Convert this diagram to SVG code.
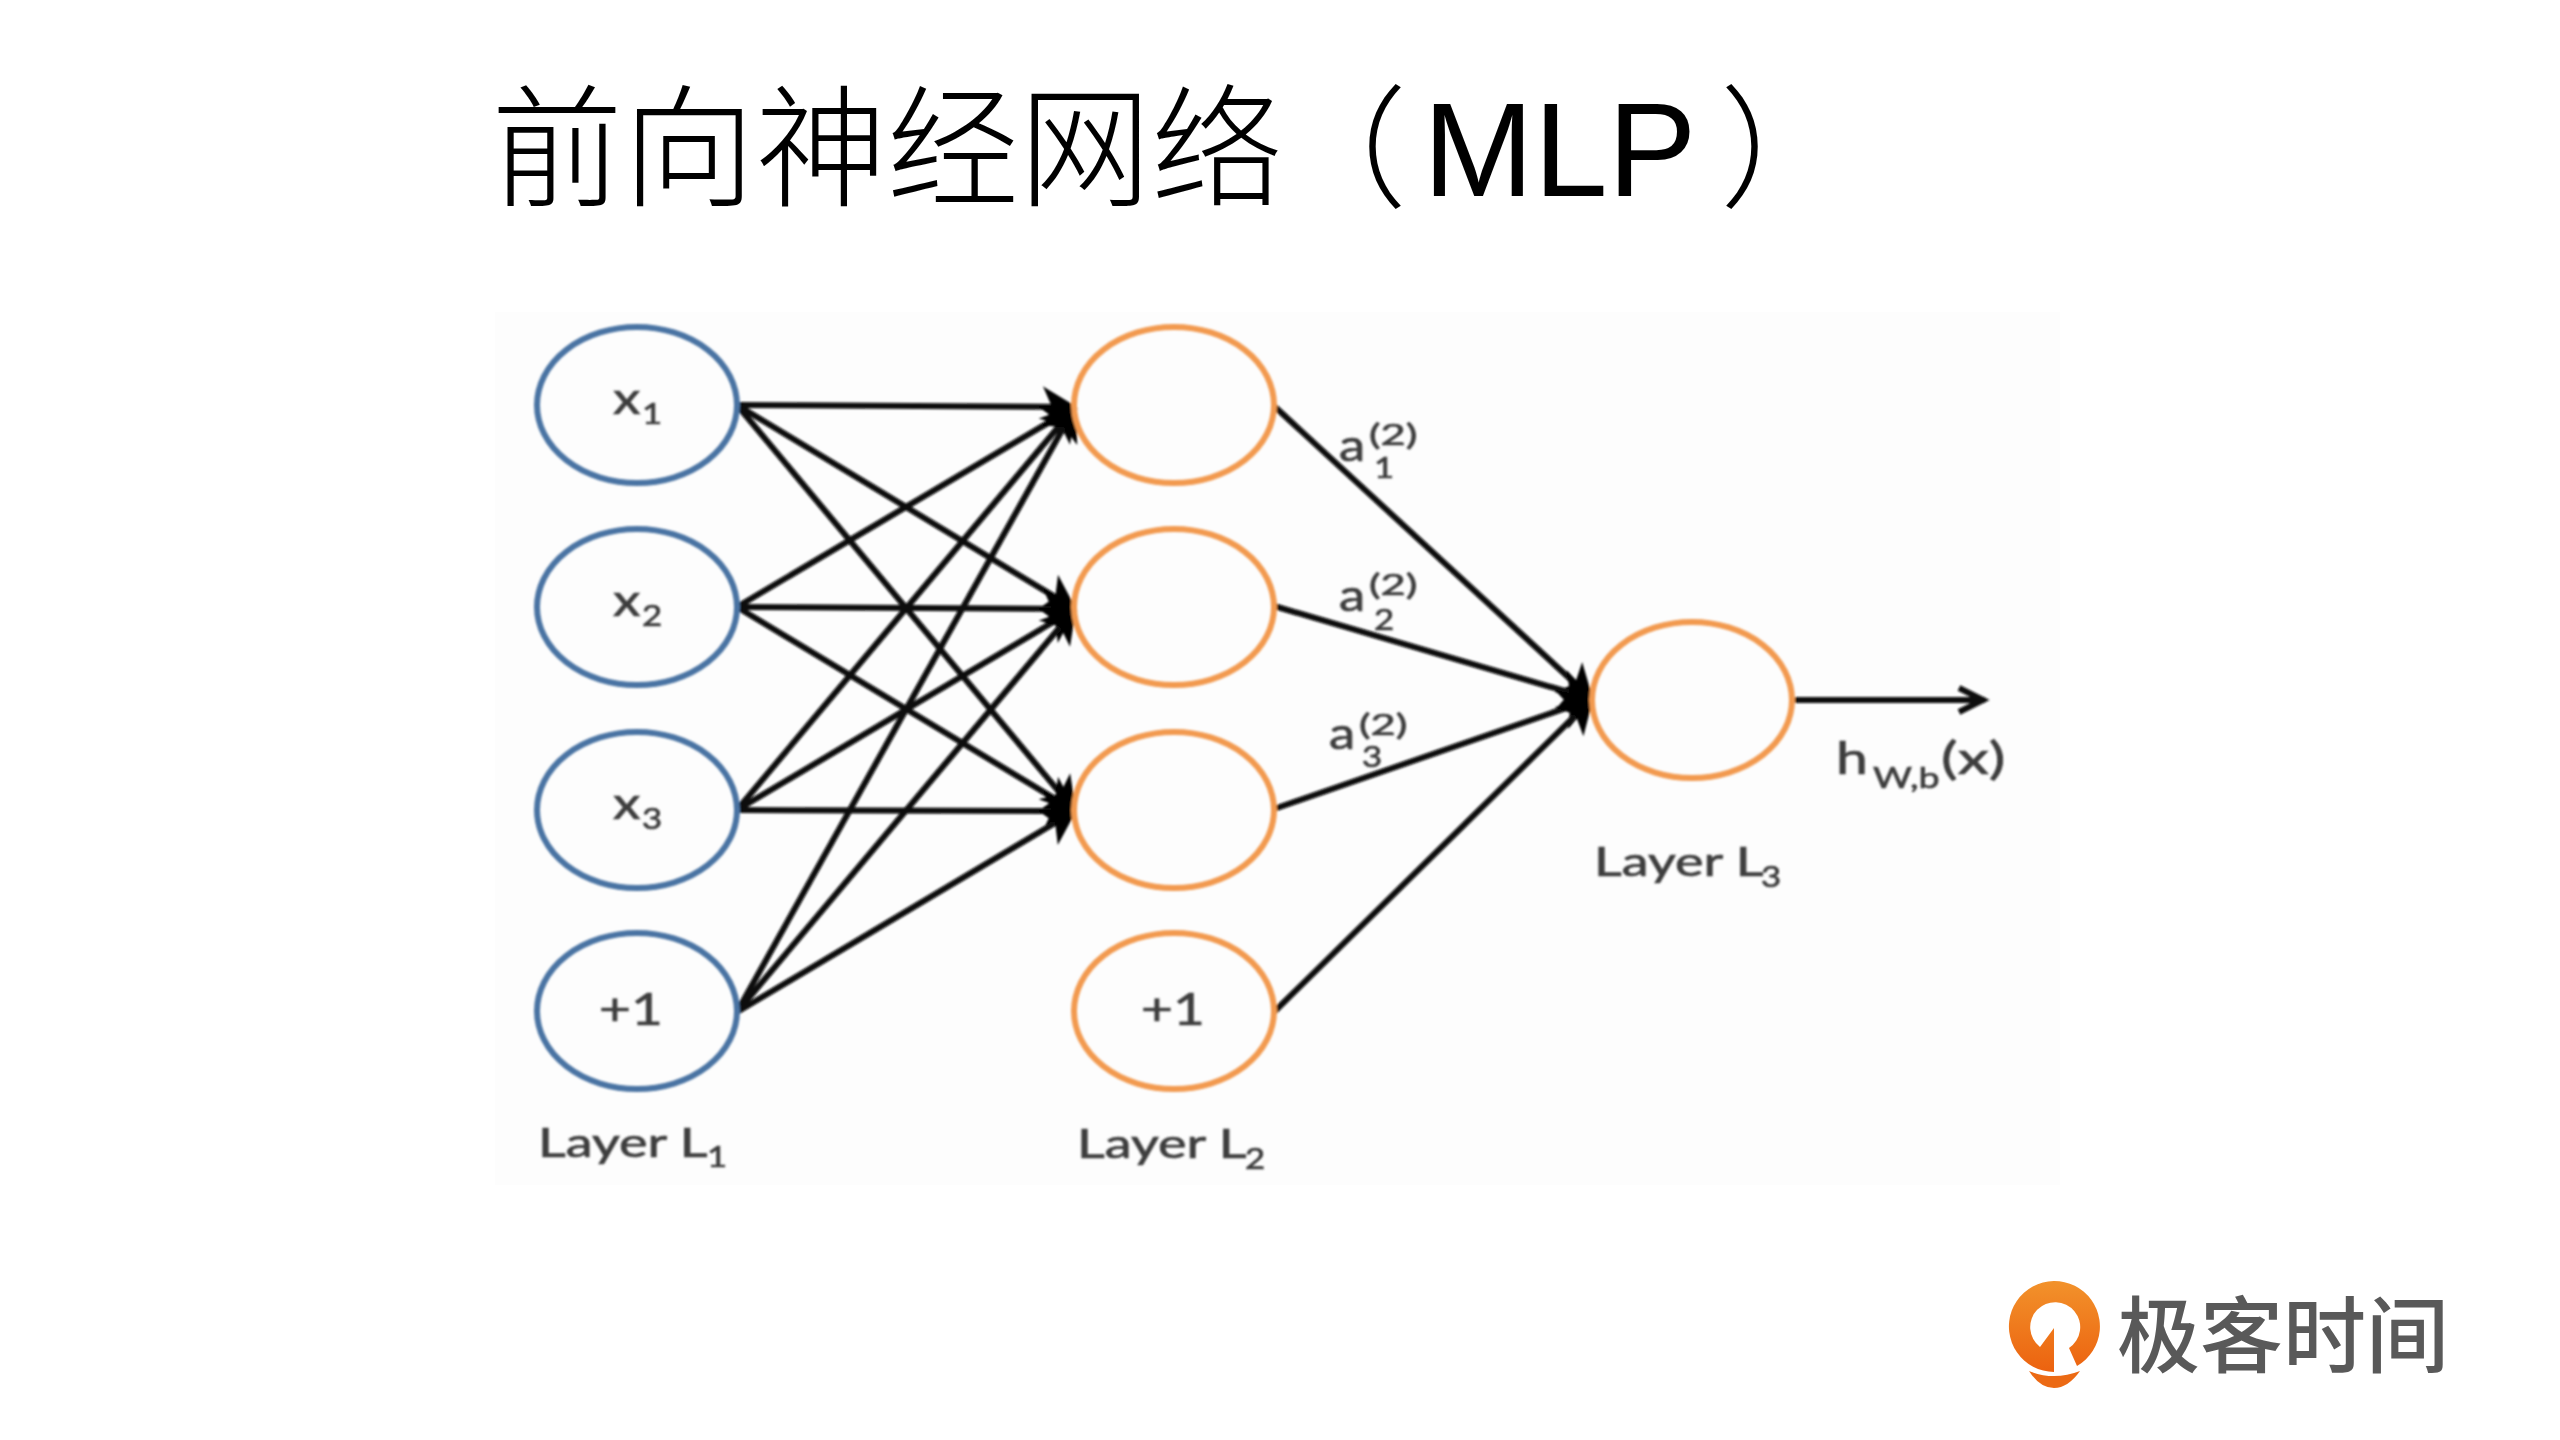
<svg xmlns="http://www.w3.org/2000/svg" width="2560" height="1440" viewBox="0 0 2560 1440">
<style>
.t{font-family:"Lato","Open Sans",sans-serif;fill:#3c3c3c;stroke:#3c3c3c;stroke-width:.7}
.m{font-size:44px}.l{font-size:40px}.s{font-size:29px}
.blue{fill:none;stroke:#4a73a3;stroke-width:6}
.org{fill:none;stroke:#f29a50;stroke-width:6}
.c{stroke:#0a0a0a;stroke-width:6;fill:none}
.ci{marker-end:url(#ah)}
</style>
<defs>
<marker id="ah" markerUnits="userSpaceOnUse" markerWidth="50" markerHeight="60" refX="46" refY="30" orient="auto" overflow="visible"><path d="M16,12 L46,30 L16,48 L24,30 Z" fill="#000" stroke="#000" stroke-width="2"/></marker>
<marker id="oa" markerUnits="userSpaceOnUse" markerWidth="40" markerHeight="40" refX="32" refY="20" orient="auto" overflow="visible"><path d="M6,8 L30,20 L6,32" fill="none" stroke="#111" stroke-width="6"/></marker>
<linearGradient id="lg" x1="0" y1="0" x2="0" y2="1"><stop offset="0" stop-color="#f2922b"/><stop offset="1" stop-color="#ec620f"/></linearGradient>
<filter id="b" x="-5%" y="-5%" width="110%" height="110%"><feGaussianBlur stdDeviation="0.9"/></filter>
</defs>
<rect width="2560" height="1440" fill="#fff"/>
<g id="title">
<text x="491" y="196" font-size="132" font-family="'Noto Sans CJK SC',sans-serif" font-weight="300" fill="#000">前向神经网络</text>
<text x="1275" y="196" font-size="132" font-family="'Noto Sans CJK SC',sans-serif" font-weight="300" fill="#000">（</text>
<text x="1423" y="196" font-size="133" font-family="'Liberation Sans',sans-serif" fill="#000">MLP</text>
<text x="1720" y="196" font-size="132" font-family="'Noto Sans CJK SC',sans-serif" font-weight="300" fill="#000">）</text>
</g>
<rect x="495" y="312" width="1565" height="873" fill="#fdfdfd"/>
<g filter="url(#b)">
<g id="connectors">
<line class="c ci" x1="737" y1="405" x2="1075" y2="407"/>
<line class="c ci" x1="737" y1="405" x2="1075" y2="609"/>
<line class="c ci" x1="737" y1="405" x2="1075" y2="811"/>
<line class="c ci" x1="737" y1="607" x2="1075" y2="407"/>
<line class="c ci" x1="737" y1="607" x2="1075" y2="609"/>
<line class="c ci" x1="737" y1="607" x2="1075" y2="811"/>
<line class="c ci" x1="737" y1="810" x2="1075" y2="407"/>
<line class="c ci" x1="737" y1="810" x2="1075" y2="609"/>
<line class="c ci" x1="737" y1="810" x2="1075" y2="811"/>
<line class="c ci" x1="737" y1="1012" x2="1075" y2="407"/>
<line class="c ci" x1="737" y1="1012" x2="1075" y2="609"/>
<line class="c ci" x1="737" y1="1012" x2="1075" y2="811"/>
<line class="c ci" x1="1274" y1="406" x2="1592" y2="699"/>
<line class="c ci" x1="1274" y1="606" x2="1592" y2="699"/>
<line class="c ci" x1="1274" y1="809" x2="1592" y2="699"/>
<line class="c ci" x1="1274" y1="1012" x2="1592" y2="699"/>
<line class="c" x1="1795" y1="700" x2="1985" y2="700" marker-end="url(#oa)"/>
</g>
<g id="n-x1"><ellipse class="blue" cx="637" cy="405" rx="100" ry="78"/><text class="t m" transform="translate(613 414) scale(1.25 1)">x</text><text class="t s" transform="translate(642 424) scale(1.2 1)">1</text></g>
<g id="n-x2"><ellipse class="blue" cx="637" cy="607" rx="100" ry="78"/><text class="t m" transform="translate(613 616) scale(1.25 1)">x</text><text class="t s" transform="translate(642 626) scale(1.2 1)">2</text></g>
<g id="n-x3"><ellipse class="blue" cx="637" cy="810" rx="100" ry="78"/><text class="t m" transform="translate(613 819) scale(1.25 1)">x</text><text class="t s" transform="translate(642 829) scale(1.2 1)">3</text></g>
<g id="n-b1"><ellipse class="blue" cx="637" cy="1011" rx="100" ry="78"/><text class="t m" transform="translate(599 1025) scale(1.25 1)">+1</text></g>
<g id="n-a1"><ellipse class="org" cx="1174" cy="405" rx="100" ry="78"/></g>
<g id="n-a2"><ellipse class="org" cx="1174" cy="607" rx="100" ry="78"/></g>
<g id="n-a3"><ellipse class="org" cx="1174" cy="810" rx="100" ry="78"/></g>
<g id="n-b2"><ellipse class="org" cx="1174" cy="1011" rx="100" ry="78"/><text class="t m" transform="translate(1141 1025) scale(1.25 1)">+1</text></g>
<g id="n-out"><ellipse class="org" cx="1692" cy="700" rx="100" ry="78"/></g>
<g id="labels">
<text class="t l" transform="translate(538 1157) scale(1.35 1)">Layer L</text><text class="t s" transform="translate(707 1167) scale(1.2 1)">1</text>
<text class="t l" transform="translate(1077 1158) scale(1.35 1)">Layer L</text><text class="t s" transform="translate(1245 1169) scale(1.2 1)">2</text>
<text class="t l" transform="translate(1594 876) scale(1.35 1)">Layer L</text><text class="t s" transform="translate(1761 887) scale(1.2 1)">3</text>
<text class="t m" transform="translate(1836 774) scale(1.3 1)">h</text><text class="t s" transform="translate(1873 788) scale(1.3 1)">W,b</text><text class="t m" transform="translate(1941 774) scale(1.42 1)">(x)</text>
<text class="t m" transform="translate(1339 461) scale(1.2 1)">a</text><text class="t s" transform="translate(1369 445) scale(1.5 1)">(2)</text><text class="t s" transform="translate(1374 478) scale(1.2 1)">1</text>
<text class="t m" transform="translate(1339 611) scale(1.2 1)">a</text><text class="t s" transform="translate(1369 595) scale(1.5 1)">(2)</text><text class="t s" transform="translate(1374 630) scale(1.2 1)">2</text>
<text class="t m" transform="translate(1329 749) scale(1.2 1)">a</text><text class="t s" transform="translate(1359 735) scale(1.5 1)">(2)</text><text class="t s" transform="translate(1362 767) scale(1.2 1)">3</text>
</g>
</g>
<g id="logo">
<path fill="url(#lg)" d="M2054,1372 A45.5,45.5 0 1 1 2077,1366 L2069,1348 A25,25 0 1 0 2040,1347 L2054,1328 Z"/>
<path fill="#ec6a14" d="M2029,1371 Q2054,1381 2080,1371 Q2068,1388 2054,1388 Q2040,1388 2029,1371 Z"/>
<text x="2117" y="1366" font-size="83" font-weight="500" fill="#595959" font-family="'Noto Sans CJK SC',sans-serif">极客时间</text>
</g>
</svg>
